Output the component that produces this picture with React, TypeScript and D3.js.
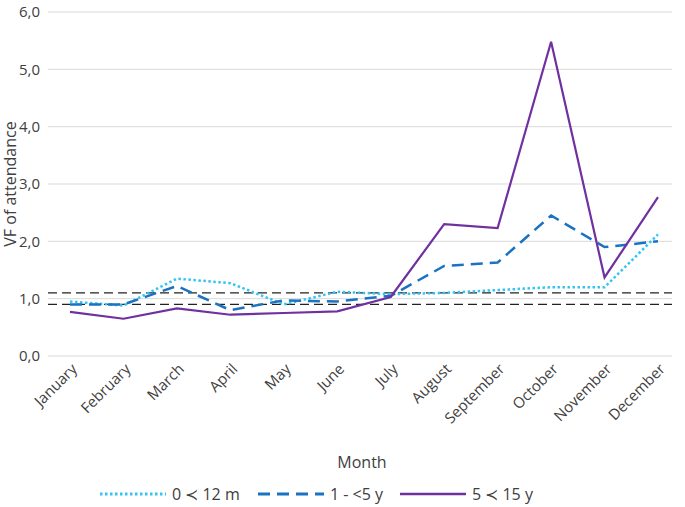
import * as d3 from "d3";

const months = ["January", "February", "March", "April", "May", "June", "July", "August", "September", "October", "November", "December"];
const infants = [0.95, 0.88, 1.35, 1.27, 0.9, 1.12, 1.08, 1.1, 1.15, 1.2, 1.2, 2.12];
const young = [0.9, 0.9, 1.22, 0.8, 0.97, 0.95, 1.05, 1.57, 1.63, 2.45, 1.9, 2.0];
const older = [0.77, 0.65, 0.83, 0.72, 0.75, 0.78, 1.03, 2.3, 2.23, 5.48, 1.37, 2.77];
const thresholds = [0.9, 1.1];
const yTicks = [0, 1, 2, 3, 4, 5, 6];

const series = [
  { name: "0 \u227A 12 m", values: infants, color: "#33c4f4", dash: "2.5 2.5", width: 2.5 },
  { name: "1 - <5 y", values: young, color: "#1a72c2", dash: "12 7", width: 2.5 },
  { name: "5 \u227A 15 y", values: older, color: "#7030a0", dash: null, width: 2.2 },
];

export default function App() {
  const W = 685, H = 507;
  const left = 48, right = 672, top = 12, bottom = 356;
  const x = d3.scalePoint<string>().domain(months).range([70, 658]);
  const y = d3.scaleLinear().domain([0, 6]).range([bottom, top]);
  const line = d3.line<number>().x((_, i) => x(months[i])!).y((d) => y(d));
  const font = "Open Sans, sans-serif";
  const legendLines = [100, 258, 400];
  return (
    <svg width={W} height={H} style={{ position: "absolute", left: 0, top: 0, background: "#fff" }} fontFamily={font}>
      {yTicks.map((t) => (
        <g key={t}>
          <line x1={left} x2={right} y1={y(t)} y2={y(t)} stroke="#d9d9d9" strokeWidth={1} />
          <text x={40} y={y(t)} dy="0.35em" textAnchor="end" fontSize={15} fill="#404040">
            {d3.format(".1f")(t).replace(".", ",")}
          </text>
        </g>
      ))}
      {thresholds.map((t) => (
        <line key={t} x1={left} x2={right} y1={y(t)} y2={y(t)} stroke="#222" strokeWidth={1.3} strokeDasharray="9 5" />
      ))}
      {series.map((s) => (
        <path key={s.name} d={line(s.values)!} fill="none" stroke={s.color} strokeWidth={s.width}
          strokeDasharray={s.dash ?? undefined} />
      ))}
      {months.map((m) => (
        <text key={m} transform={`translate(${x(m)! + 8},${bottom + 14}) rotate(-45)`} textAnchor="end"
          fontSize={15} fill="#404040">{m}</text>
      ))}
      <text transform={`translate(16,${(top + bottom) / 2}) rotate(-90)`} textAnchor="middle" fontSize={16} fill="#404040">
        VF of attendance
      </text>
      <text x={362} y={468} textAnchor="middle" fontSize={16} fill="#404040">Month</text>
      {series.map((s, i) => {
        const lx = legendLines[i];
        return (
          <g key={s.name}>
            <line x1={lx} x2={lx + 66} y1={494} y2={494} stroke={s.color} strokeWidth={s.width + 0.5}
              strokeDasharray={s.dash ?? undefined} />
            <text x={lx + 72} y={494} dy="0.35em" fontSize={16} fill="#404040">{s.name}</text>
          </g>
        );
      })}
    </svg>
  );
}
